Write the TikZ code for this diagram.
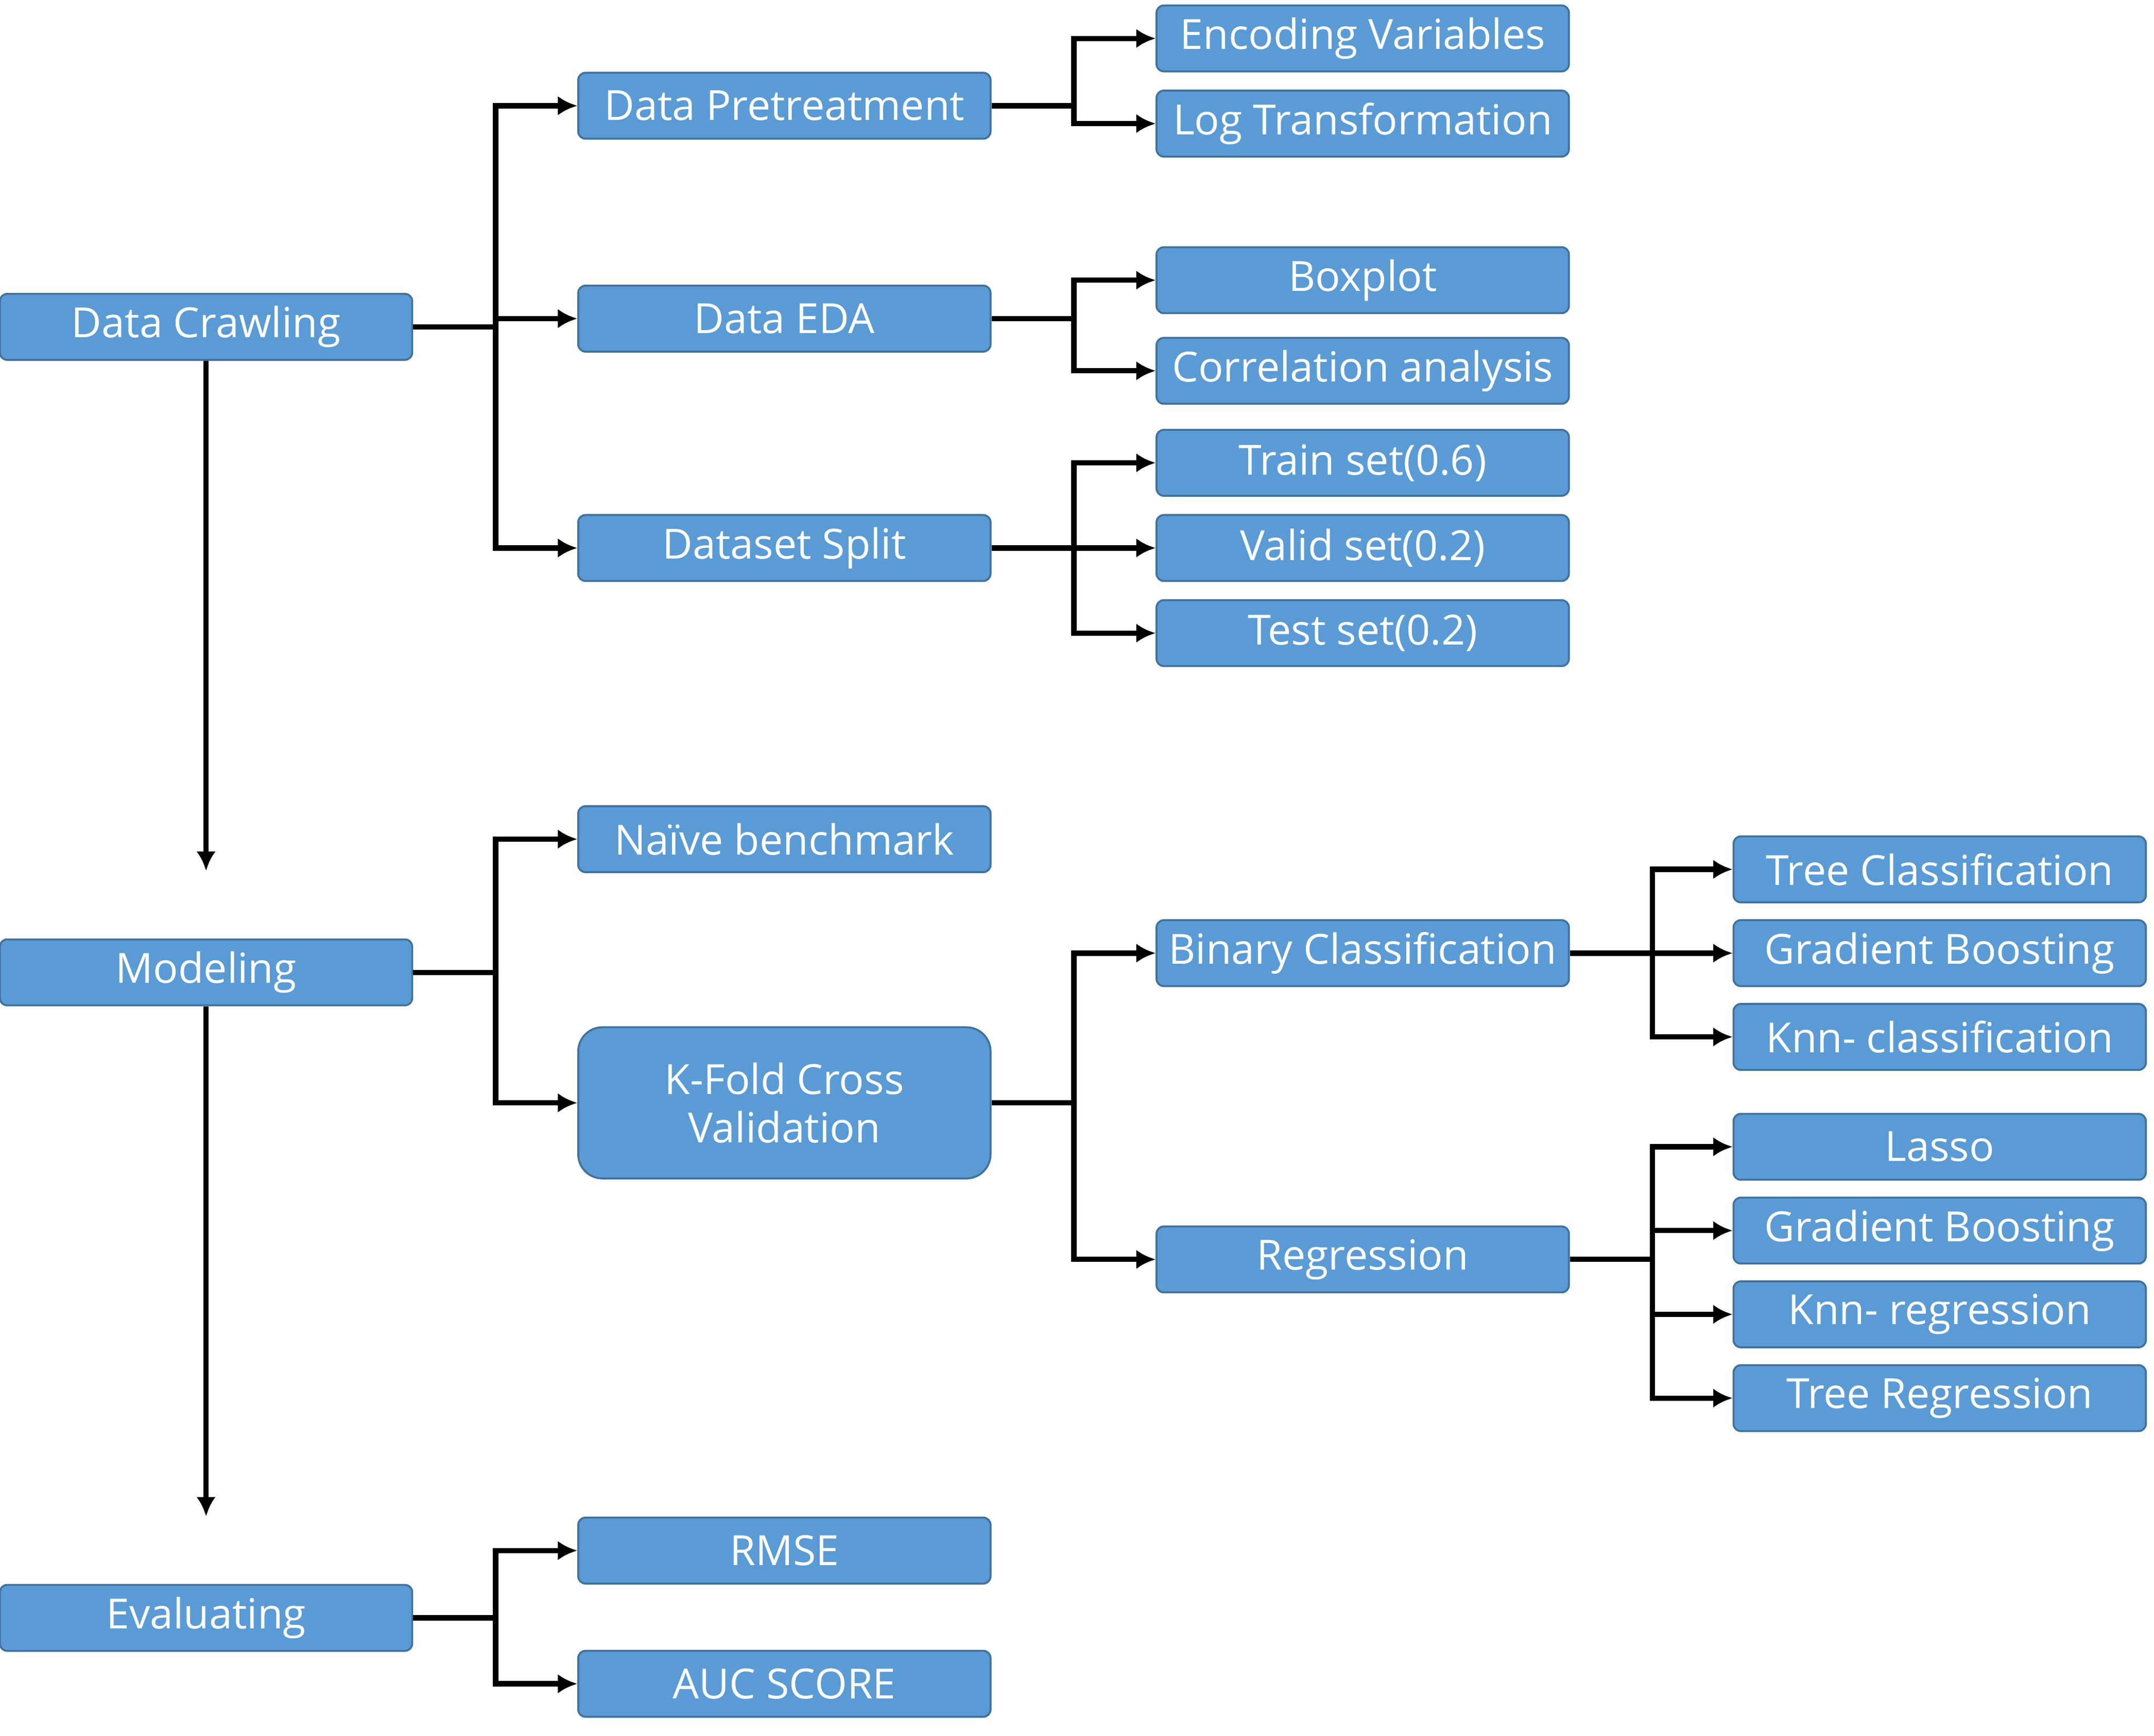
\documentclass[tikz,border=0pt]{standalone}
\usepackage{fontspec}
\setmainfont{Open Sans}
\usetikzlibrary{arrows.meta, positioning, calc}

\tikzset{
  box/.style={draw=blue!40!black!60, fill=blue!55!cyan!45!white!80!black, text=white, minimum width=3cm, minimum height=0.48cm,
    rounded corners=1.5pt, inner sep=0pt, font=\fontsize{8.6}{10}\selectfont, line width=0.4pt},
  link/.style={line width=1.1pt, -{Latex[length=4pt,width=4pt]}},
}
\definecolor{boxfill}{HTML}{5B9BD5}
\definecolor{boxline}{HTML}{41719C}
\tikzset{box/.append style={fill=boxfill, draw=boxline}}

\begin{document}
\begin{tikzpicture}[x=0.01cm, y=-0.01cm]
        \useasboundingbox (0,0) rectangle (1568,1264);
        % main column
        \node[box] (crawl) at (150,238) {Data Crawling};
        \node[box] (model) at (150,708) {Modeling};
        \node[box] (eval)  at (150,1178) {Evaluating};
        % second column
        \node[box] (pre)   at (571,77)  {Data Pretreatment};
        \node[box] (eda)   at (571,232) {Data EDA};
        \node[box] (split) at (571,399) {Dataset Split};
        \node[box] (naive) at (571,611) {Naïve benchmark};
        \node[box, minimum height=1.1cm, rounded corners=5pt, align=center] (kfold) at (571,803) {K-Fold Cross\\Validation};
        \node[box] (rmse)  at (571,1129) {RMSE};
        \node[box] (auc)   at (571,1226) {AUC SCORE};
        % third column
        \node[box] (enc)   at (992,28)  {Encoding Variables};
        \node[box] (log)   at (992,90)  {Log Transformation};
        \node[box] (bplot) at (992,204) {Boxplot};
        \node[box] (corr)  at (992,270) {Correlation analysis};
        \node[box] (train) at (992,337) {Train set(0.6)};
        \node[box] (valid) at (992,399) {Valid set(0.2)};
        \node[box] (test)  at (992,461) {Test set(0.2)};
        \node[box] (bin)   at (992,694) {Binary Classification};
        \node[box] (reg)   at (992,917) {Regression};
        % fourth column
        \node[box] (tcls)  at (1412,633)  {Tree Classification};
        \node[box] (gbc)   at (1412,694)  {Gradient Boosting};
        \node[box] (kcls)  at (1412,755)  {Knn- classification};
        \node[box] (lasso) at (1412,835)  {Lasso};
        \node[box] (gbr)   at (1412,896)  {Gradient Boosting};
        \node[box] (kreg)  at (1412,957)  {Knn- regression};
        \node[box] (treg)  at (1412,1018) {Tree Regression};

        \draw[link, shorten >=14pt] (crawl) -- (model);
        \draw[link, shorten >=14pt] (model) -- (eval);
        \foreach \p/\cl in {crawl/{pre,eda,split}, model/{naive,kfold}, eval/{rmse,auc},
            pre/{enc,log}, eda/{bplot,corr}, split/{train,valid,test}, kfold/{bin,reg},
            bin/{tcls,gbc,kcls}, reg/{lasso,gbr,kreg,treg}}
          \foreach \c in \cl
            \draw[link] (\p.east) -- ++(60,0) |- (\c.west);
\end{tikzpicture}
\end{document}
